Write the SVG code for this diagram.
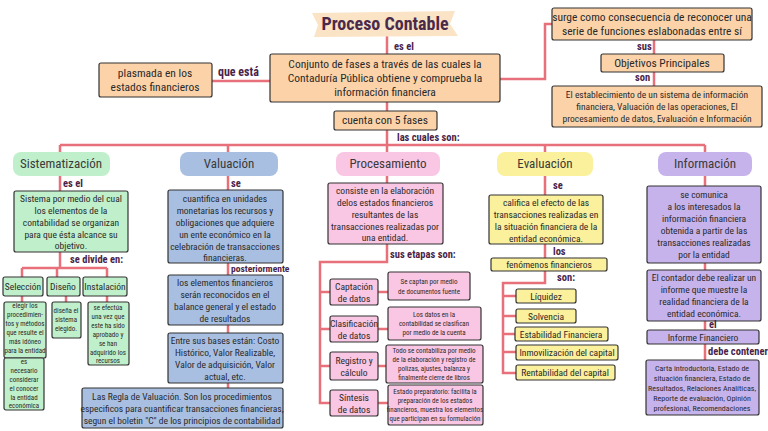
<svg xmlns="http://www.w3.org/2000/svg" width="768" height="431" viewBox="0 0 768 431">
<style>
text{font-family:"Liberation Sans Narrow","Roboto Condensed","Liberation Sans",sans-serif;text-anchor:middle;fill:#2a2a2a}
.b{stroke:#333;stroke-width:1.2}
.pe{fill:#fcd3a9}.gr{fill:#c0f0cb}.bl{fill:#a8bfe2}.pk{fill:#f9c6e3}.ye{fill:#fbf09b}.pu{fill:#c6b3eb}
.lab{font-weight:bold;fill:#4a1f4a;font-size:10.5px;text-anchor:start}
.cat{font-size:13px;fill:#3a3a3a}
.c{fill:none;stroke:#e7707a;stroke-width:2.5}
.t11{font-size:11.5px}.t9{font-size:9.5px}.t7{font-size:7px}.t8{font-size:8px}
</style>
<rect width="768" height="431" fill="#fff"/>
<g id="connectors">
<path class="c" d="M387 36V54M270 81H212M500 79H545V24H552M654 40V54M654 72V86M387 102V111M387 130V145M60 145H705M60 145V152M228 145V152M387 145V152M545 145V152M705 145V152"/>
<path class="c" d="M60 176V191M60 252V268M22 268H107M22 268V277M57 268V277M107 268V277M22 296V302M22 358V362M66 296V302M107 296V302"/>
<path class="c" d="M228 176V190M228 263V275M228 325V333M228 383V388"/>
<path class="c" d="M387 176V183M387 244V262H320V403H330M320 292H330M320 329H330M320 366H330M378 292H388M378 329H388M378 366H388M378 403H388"/>
<path class="c" d="M545 176V195M545 244V258M545 271V283H503V373H516M503 296H516M503 316H516M503 334H515M503 352H516"/>
<path class="c" d="M705 176V186M705 263V270M705 321V330M705 344V360"/>
</g>
<g id="title"><path d="M312 13L455 11L450 24L458 36L314 37L318 25Z" fill="#fbe3c6"/><text x="385" y="30" style="font-size:18px;font-weight:bold;fill:#4a2a4a">Proceso Contable</text></g>
<text class="lab" x="394" y="50">es el</text>
<g id="main"><rect class="b pe" x="270" y="54" width="230" height="48" rx="2"/><text class="t11" x="385" y="68">Conjunto de fases a través de las cuales la</text><text class="t11" x="385" y="82">Contaduría Pública obtiene y comprueba la</text><text class="t11" x="385" y="96">información financiera</text></g>
<text class="lab" x="218" y="76" style="font-size:12px">que está</text>
<g id="plasmada"><rect class="b pe" x="99" y="63" width="113" height="34" rx="2"/><text class="t11" x="155" y="77">plasmada en los</text><text class="t11" x="155" y="91">estados financieros</text></g>
<g id="surge"><rect class="b pe" x="552" y="8" width="200" height="32" rx="2"/><text class="t11" x="652" y="21">surge como consecuencia de reconocer una</text><text class="t11" x="652" y="35">serie de funciones eslabonadas entre sí</text></g>
<text class="lab" x="637" y="50">sus</text>
<g id="objetivos"><rect class="b pe" x="601" y="54" width="123" height="18" rx="2"/><text class="t11" x="662" y="67">Objetivos Principales</text></g>
<text class="lab" x="635" y="81">son</text>
<g id="establecimiento"><rect class="b pe" x="552" y="86" width="210" height="41" rx="2"/><text class="t9" x="657" y="98">El establecimiento de un sistema de información</text><text class="t9" x="657" y="110">financiera, Valuación de las operaciones, El</text><text class="t9" x="657" y="122">procesamiento de datos, Evaluación e Información</text></g>
<g id="fases"><rect class="b pe" x="334" y="111" width="103" height="19" rx="2"/><text class="t11" x="385" y="124">cuenta con 5 fases</text></g>
<text class="lab" x="397" y="141">las cuales son:</text>

<g id="sistematizacion"><rect class="gr" x="13" y="152" width="97" height="24" rx="8"/><text class="cat" x="61" y="168">Sistematización</text></g>
<text class="lab" x="63" y="187">es el</text>
<g id="sist-def"><rect class="b gr" x="14" y="191" width="114" height="61" rx="2"/><text class="t9" x="71" y="202">Sistema por medio del cual</text><text class="t9" x="71" y="214">los elementos de la</text><text class="t9" x="71" y="226">contabilidad se organizan</text><text class="t9" x="71" y="238">para que ésta alcance su</text><text class="t9" x="71" y="249">objetivo.</text></g>
<text class="lab" x="70" y="263">se divide en:</text>
<g id="seleccion"><rect class="b gr" x="3" y="277" width="40" height="19" rx="2"/><text class="t9" x="23" y="290">Selección</text></g>
<g id="diseno"><rect class="b gr" x="47" y="277" width="33" height="19" rx="2"/><text class="t9" x="63" y="290">Diseño</text></g>
<g id="instalacion"><rect class="b gr" x="83" y="277" width="44" height="19" rx="2"/><text class="t9" x="105" y="290">Instalación</text></g>
<g id="sel-def"><rect class="b gr" x="4" y="302" width="42" height="56" rx="2"/><text class="t7" x="25" y="308">elegir los</text><text class="t7" x="25" y="317">procedimien-</text><text class="t7" x="25" y="326">tos y métodos</text><text class="t7" x="25" y="335">que resulte el</text><text class="t7" x="25" y="344">más idóneo</text><text class="t7" x="25" y="353">para la entidad</text></g>
<g id="sel-def2"><rect class="b gr" x="4" y="358" width="40" height="52" rx="2"/><text class="t7" x="24" y="364">es</text><text class="t7" x="24" y="373">necesario</text><text class="t7" x="24" y="382">considerar</text><text class="t7" x="24" y="391">el conocer</text><text class="t7" x="24" y="400">la entidad</text><text class="t7" x="24" y="408">económica</text></g>
<g id="dis-def"><rect class="b gr" x="52" y="302" width="29" height="36" rx="2"/><text class="t7" x="66" y="313">diseña el</text><text class="t7" x="66" y="322">sistema</text><text class="t7" x="66" y="331">elegido.</text></g>
<g id="ins-def"><rect class="b gr" x="88" y="302" width="41" height="63" rx="2"/><text class="t7" x="108" y="310">se efectúa</text><text class="t7" x="108" y="319">una vez que</text><text class="t7" x="108" y="328">este ha sido</text><text class="t7" x="108" y="337">aprobado y</text><text class="t7" x="108" y="346">se han</text><text class="t7" x="108" y="355">adquirido los</text><text class="t7" x="108" y="363">recursos</text></g>

<g id="valuacion"><rect class="bl" x="180" y="152" width="98" height="24" rx="8"/><text class="cat" x="229" y="168">Valuación</text></g>
<text class="lab" x="231" y="187">se</text>
<g id="val-def"><rect class="b bl" x="168" y="190" width="115" height="73" rx="2"/><text class="t9" x="225" y="202">cuantifica en unidades</text><text class="t9" x="225" y="214">monetarias los recursos y</text><text class="t9" x="225" y="226">obligaciones que adquiere</text><text class="t9" x="225" y="238">un ente económico en la</text><text class="t9" x="225" y="250">celebración de transacciones</text><text class="t9" x="225" y="261">financieras.</text></g>
<text class="lab" x="231" y="272" style="font-size:9.5px">posteriormente</text>
<g id="val-2"><rect class="b bl" x="168" y="275" width="115" height="50" rx="2"/><text class="t9" x="225" y="286">los elementos financieros</text><text class="t9" x="225" y="298">serán reconocidos en el</text><text class="t9" x="225" y="310">balance general y el estado</text><text class="t9" x="225" y="322">de resultados</text></g>
<g id="val-3"><rect class="b bl" x="168" y="333" width="115" height="50" rx="2"/><text class="t9" x="225" y="344">Entre sus bases están: Costo</text><text class="t9" x="225" y="356">Histórico, Valor Realizable,</text><text class="t9" x="225" y="368">Valor de adquisición, Valor</text><text class="t9" x="225" y="380">actual, etc.</text></g>
<g id="val-4"><rect class="b bl" x="82" y="388" width="201" height="40" rx="2"/><text class="t9" x="182" y="400">Las Regla de Valuación. Son los procedimientos</text><text class="t9" x="182" y="412">especificos para cuantificar transacciones financieras,</text><text class="t9" x="182" y="424">segun el boletin "C" de los principios de contabilidad</text></g>

<g id="procesamiento"><rect class="pk" x="336" y="152" width="104" height="24" rx="8"/><text class="cat" x="388" y="168">Procesamiento</text></g>
<g id="proc-def"><rect class="b pk" x="328" y="183" width="115" height="61" rx="2"/><text class="t9" x="385" y="194">consiste en la elaboración</text><text class="t9" x="385" y="206">delos estados financieros</text><text class="t9" x="385" y="218">resultantes de las</text><text class="t9" x="385" y="230">transacciones realizadas por</text><text class="t9" x="385" y="241">una entidad.</text></g>
<text class="lab" x="390" y="258">sus etapas son:</text>
<g id="captacion"><rect class="b pk" x="330" y="279" width="48" height="26" rx="2"/><text class="t9" x="354" y="290">Captación</text><text class="t9" x="354" y="302">de datos</text></g>
<g id="clasificacion"><rect class="b pk" x="330" y="316" width="48" height="26" rx="2"/><text class="t9" x="354" y="327">Clasificación</text><text class="t9" x="354" y="339">de datos</text></g>
<g id="registro"><rect class="b pk" x="330" y="352" width="48" height="28" rx="2"/><text class="t9" x="354" y="364">Registro y</text><text class="t9" x="354" y="376">cálculo</text></g>
<g id="sintesis"><rect class="b pk" x="330" y="390" width="48" height="26" rx="2"/><text class="t9" x="354" y="401">Síntesis</text><text class="t9" x="354" y="413">de datos</text></g>
<g id="capt-def"><rect class="b pk" x="388" y="272" width="82" height="28" rx="2"/><text class="t7" x="429" y="284">Se captan por medio</text><text class="t7" x="429" y="294">de documentos fuente</text></g>
<g id="clas-def"><rect class="b pk" x="388" y="307" width="93" height="33" rx="2"/><text class="t7" x="434" y="317">Los datos en la</text><text class="t7" x="434" y="326">contabilidad se clasifican</text><text class="t7" x="434" y="335">por medio de la cuenta</text></g>
<g id="reg-def"><rect class="b pk" x="386" y="345" width="97" height="38" rx="2"/><text class="t7" x="434" y="353">Todo se contabiliza por medio</text><text class="t7" x="434" y="362">de la elaboración y registro de</text><text class="t7" x="434" y="371">polizas, ajustes, balanza y</text><text class="t7" x="434" y="380">finalmente cierre de libros</text></g>
<g id="sin-def"><rect class="b pk" x="388" y="385" width="95" height="40" rx="2"/><text class="t7" x="435" y="394">Estado preparatorio: facilita la</text><text class="t7" x="435" y="403">preparación de los estados</text><text class="t7" x="435" y="412">financieros, muestra los elementos</text><text class="t7" x="435" y="421">que participan en su formulación</text></g>

<g id="evaluacion"><rect class="ye" x="497" y="152" width="96" height="24" rx="8"/><text class="cat" x="545" y="168">Evaluación</text></g>
<text class="lab" x="553" y="189">se</text>
<g id="eval-def"><rect class="b ye" x="489" y="195" width="114" height="49" rx="2"/><text class="t9" x="546" y="206">califica el efecto de las</text><text class="t9" x="546" y="218">transacciones realizadas en</text><text class="t9" x="546" y="230">la situación financiera de la</text><text class="t9" x="546" y="242">entidad económica.</text></g>
<text class="lab" x="553" y="255">los</text>
<g id="fenomenos"><rect class="b ye" x="491" y="258" width="116" height="13" rx="2"/><text class="t9" x="549" y="268">fenómenos financieros</text></g>
<text class="lab" x="557" y="281">son:</text>
<g id="liquidez"><rect class="b ye" x="516" y="289" width="60" height="14" rx="2"/><text class="t9" x="546" y="300">Líquidez</text></g>
<g id="solvencia"><rect class="b ye" x="516" y="309" width="60" height="14" rx="2"/><text class="t9" x="546" y="320">Solvencia</text></g>
<g id="estabilidad"><rect class="b ye" x="515" y="327" width="93" height="14" rx="2"/><text class="t9" x="561" y="338">Estabilidad Financiera</text></g>
<g id="inmovilizacion"><rect class="b ye" x="516" y="345" width="102" height="15" rx="2"/><text class="t9" x="567" y="356">Inmovilización del capital</text></g>
<g id="rentabilidad"><rect class="b ye" x="516" y="365" width="99" height="15" rx="2"/><text class="t9" x="565" y="376">Rentabilidad del capital</text></g>

<g id="informacion"><rect class="pu" x="658" y="152" width="94" height="24" rx="8"/><text class="cat" x="705" y="168">Información</text></g>
<g id="inf-def"><rect class="b pu" x="647" y="186" width="114" height="77" rx="2"/><text class="t9" x="704" y="198">se comunica</text><text class="t9" x="704" y="210">a los interesados la</text><text class="t9" x="704" y="222">información financiera</text><text class="t9" x="704" y="234">obtenida a partir de las</text><text class="t9" x="704" y="246">transacciones realizadas</text><text class="t9" x="704" y="258">por la entidad</text></g>
<g id="inf-2"><rect class="b pu" x="647" y="270" width="114" height="51" rx="2"/><text class="t9" x="704" y="281">El contador debe realizar un</text><text class="t9" x="704" y="293">informe que muestre la</text><text class="t9" x="704" y="305">realidad financiera de la</text><text class="t9" x="704" y="317">entidad económica.</text></g>
<text class="lab" x="709" y="328">el</text>
<g id="informe"><rect class="b pu" x="647" y="330" width="112" height="14" rx="2"/><text class="t9" x="703" y="341">Informe Financiero</text></g>
<text class="lab" x="708" y="355">debe contener</text>
<g id="contenido"><rect class="b pu" x="646" y="360" width="113" height="55" rx="2"/><text class="t8" x="702" y="371">Carta introductoria, Estado de</text><text class="t8" x="702" y="381">situación financiera, Estado de</text><text class="t8" x="702" y="391">Resultados, Relaciones Analíticas,</text><text class="t8" x="702" y="401">Reporte de evaluación, Opinión</text><text class="t8" x="702" y="411">profesional, Recomendaciones</text></g>
</svg>
